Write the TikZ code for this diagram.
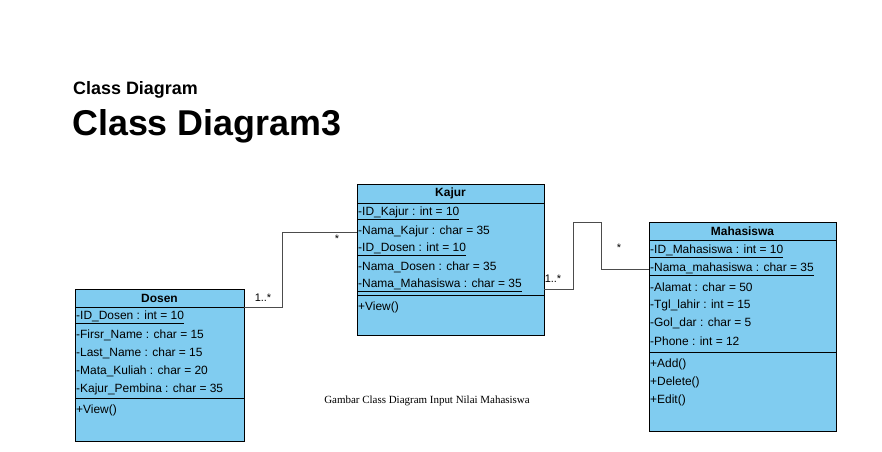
\documentclass[tikz,border=0pt]{standalone}
\usepackage{fontspec}
\setmainfont{Liberation Sans}
\newfontfamily\capfont{Liberation Serif}
\usetikzlibrary{calc}
\definecolor{cls}{HTML}{80CCF0}
\begin{document}
\begin{tikzpicture}[x=1bp,y=-1bp,
  box/.style={draw=black,fill=cls,line width=0.8bp,anchor=north west,inner sep=0,outer sep=0},
  attr/.style={anchor=west,inner sep=0,font=\fontsize{12}{14}\selectfont},
  head/.style={anchor=center,inner sep=0,font=\fontsize{12}{14}\selectfont\bfseries},
  lbl/.style={inner sep=0,font=\fontsize{11}{13}\selectfont},
  conn/.style={draw=black!70,line width=0.8bp}]
\useasboundingbox (0,0) rectangle (882,452);
\fill[white] (0,0) rectangle (882,452);
\node[anchor=base west,inner sep=0,font=\fontsize{18}{20}\selectfont\bfseries] (t1) at (73,95) {Class Diagram};
\node[anchor=base west,inner sep=0,font=\fontsize{36}{40}\selectfont\bfseries] (t2) at (72,136) {Class Diagram3};
% Dosen
\node[box,minimum width=169bp,minimum height=152bp] (dosen) at (75,289) {};
\draw[line width=0.8bp] (75,307) -- (244,307) (75,398) -- (244,398);
\node[head] (dh) at (159.5,298) {Dosen};
\node[attr] (d1) at (76,317) {\underline{-ID\_Dosen : int = 10}};
\node[attr] (d2) at (76,335) {-Firsr\_Name : char = 15};
\node[attr] (d3) at (76,353) {-Last\_Name : char = 15};
\node[attr] (d4) at (76,371) {-Mata\_Kuliah : char = 20};
\node[attr] (d5) at (76,389) {-Kajur\_Pembina : char = 35};
\node[attr] (d6) at (76,410) {+View()};
% Kajur
\node[box,minimum width=187bp,minimum height=151bp] (kajur) at (357,184) {};
\draw[line width=0.8bp] (357,203) -- (544,203) (357,295) -- (544,295);
\node[head] (kh) at (450.5,193.5) {Kajur};
\node[attr] (k1) at (358,213) {\underline{-ID\_Kajur : int = 10}};
\node[attr] (k2) at (358,231) {-Nama\_Kajur : char = 35};
\node[attr] (k3) at (358,249) {\underline{-ID\_Dosen : int = 10}};
\node[attr] (k4) at (358,267) {-Nama\_Dosen : char = 35};
\node[attr] (k5) at (358,285) {\underline{-Nama\_Mahasiswa : char = 35}};
\node[attr] (k6) at (358,307) {+View()};
% Mahasiswa
\node[box,minimum width=187bp,minimum height=209bp] (mhs) at (649,222) {};
\draw[line width=0.8bp] (649,240) -- (836,240) (649,352) -- (836,352);
\node[head] (mh) at (742.5,231) {Mahasiswa};
\node[attr] (m1) at (650,251) {\underline{-ID\_Mahasiswa : int = 10}};
\node[attr] (m2) at (650,269) {\underline{-Nama\_mahasiswa : char = 35}};
\node[attr] (m3) at (650,287) {-Alamat : char = 50};
\node[attr] (m4) at (650,305) {-Tgl\_lahir : int = 15};
\node[attr] (m5) at (650,323) {-Gol\_dar : char = 5};
\node[attr] (m6) at (650,341) {-Phone : int = 12};
\node[attr] (m7) at (650,364) {+Add()};
\node[attr] (m8) at (650,382) {+Delete()};
\node[attr] (m9) at (650,400) {+Edit()};
% connectors
\coordinate (a1) at (244,307);
\coordinate (a2) at (357,232);
\draw[conn] (a1) -- (282,307) -- (282,232) -- (a2);
\coordinate (b1) at (544,289);
\coordinate (b2) at (649,269);
\draw[conn] (b1) -- (573,289) -- (573,222) -- (601,222) -- (601,269) -- (b2);
\node[lbl] (l1) at (263,298) {1..*};
\node[lbl] (l2) at (337,239) {*};
\node[lbl] (l3) at (553,279) {1..*};
\node[lbl] (l4) at (619,248) {*};
\node[inner sep=0,font=\capfont\fontsize{11}{13}\selectfont] (cap) at (427,401) {Gambar Class Diagram Input Nilai Mahasiswa};
\end{tikzpicture}
\end{document}
